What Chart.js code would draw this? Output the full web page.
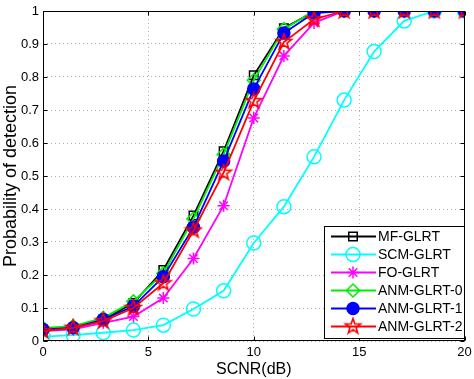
<!DOCTYPE html>
<html>
<head>
<meta charset="utf-8">
<script src="https://cdn.jsdelivr.net/npm/chart.js@4.4.1/dist/chart.umd.min.js"></script>
<style>
html,body{margin:0;padding:0;background:#fff;}
#wrap{width:474px;height:379px;position:relative;}
</style>
</head>
<body>
<div id="wrap"><canvas id="c" width="474" height="379"></canvas></div>
<script>
// ---- data ----
const scnr = [0, 1.43, 2.86, 4.29, 5.71, 7.14, 8.57, 10, 11.43, 12.86, 14.29, 15.71, 17.14, 18.57, 20];
const mfGlrt   = [0.035, 0.040, 0.065, 0.115, 0.215, 0.380, 0.575, 0.805, 0.948, 0.998, 1, 1, 1, 1, 1];
const scmGlrt  = [0.013, 0.018, 0.025, 0.033, 0.048, 0.097, 0.152, 0.297, 0.407, 0.558, 0.730, 0.877, 0.970, 1, 1];
const foGlrt   = [0.030, 0.035, 0.055, 0.074, 0.130, 0.250, 0.410, 0.676, 0.864, 0.964, 1, 1, 1, 1, 1];
const anmGlrt0 = [0.040, 0.045, 0.070, 0.120, 0.205, 0.370, 0.565, 0.790, 0.945, 1, 1, 1, 1, 1, 1];
const anmGlrt1 = [0.035, 0.040, 0.065, 0.105, 0.195, 0.345, 0.545, 0.764, 0.933, 0.994, 1, 1, 1, 1, 1];
const anmGlrt2 = [0.030, 0.040, 0.060, 0.100, 0.175, 0.335, 0.510, 0.727, 0.906, 0.975, 1, 1, 1, 1, 1];
const seriesNames = ['MF-GLRT', 'SCM-GLRT', 'FO-GLRT', 'ANM-GLRT-0', 'ANM-GLRT-1', 'ANM-GLRT-2'];
const xTicks = [0, 5, 10, 15, 20];
const yTicks = [0, 0.1, 0.2, 0.3, 0.4, 0.5, 0.6, 0.7, 0.8, 0.9, 1];

// pentagram marker canvas
function makeStar(color, r) {
  const s = Math.ceil(r * 2 + 4);
  const cv = document.createElement('canvas');
  cv.width = s; cv.height = s;
  const c = cv.getContext('2d');
  const cx = s / 2, cy = s / 2, ri = r * 0.4;
  c.beginPath();
  for (let k = 0; k < 10; k++) {
    const rad = k % 2 === 0 ? r : ri;
    const a = -Math.PI / 2 + k * Math.PI / 5;
    const px = cx + rad * Math.cos(a), py = cy + rad * Math.sin(a);
    if (k === 0) c.moveTo(px, py); else c.lineTo(px, py);
  }
  c.closePath();
  c.strokeStyle = color; c.lineWidth = 1.6; c.stroke();
  return cv;
}
const starImg = makeStar('#ff0000', 8);

const seriesData = [mfGlrt, scmGlrt, foGlrt, anmGlrt0, anmGlrt1, anmGlrt2];
const colors = ['#000000', '#00ffff', '#ff00ff', '#00ee00', '#0000ff', '#ff0000'];
const styles = ['rect', 'circle', 'star', 'rectRot', 'circle', starImg];
const radii = [6, 7, 6, 6.5, 6, 8];
const fills = ['rgba(0,0,0,0)', 'rgba(0,0,0,0)', 'rgba(0,0,0,0)', 'rgba(0,0,0,0)', '#0000ff', 'rgba(0,0,0,0)'];

const datasets = seriesNames.map((name, i) => ({
  label: name,
  data: scnr.map((x, j) => ({x: x, y: seriesData[i][j]})),
  borderColor: colors[i],
  backgroundColor: fills[i],
  pointBorderColor: colors[i],
  pointBackgroundColor: fills[i],
  pointStyle: styles[i],
  pointRadius: radii[i],
  pointHoverRadius: radii[i],
  pointBorderWidth: 1.5,
  borderWidth: 1.8,
  tension: 0,
  fill: false,
  order: seriesNames.length - i
}));

const framePlugin = {
  id: 'frame',
  afterDatasetsDraw(chart) {
    const ctx = chart.ctx, a = chart.chartArea;
    const xs = chart.scales.x, ys = chart.scales.y;
    ctx.save();
    ctx.strokeStyle = '#000';
    ctx.lineWidth = 1;
    ctx.setLineDash([]);
    const L = Math.round(a.left) + 0.5, R = Math.round(a.right) - 0.5;
    const T = Math.round(a.top) + 0.5, B = Math.round(a.bottom) - 0.5;
    ctx.strokeRect(L, T, R - L, B - T);
    ctx.beginPath();
    const tl = 4;
    xTicks.forEach(v => {
      const px = Math.round(xs.getPixelForValue(v)) + 0.5;
      ctx.moveTo(px, B); ctx.lineTo(px, B - tl);
      ctx.moveTo(px, T); ctx.lineTo(px, T + tl);
    });
    yTicks.forEach(v => {
      const py = Math.round(ys.getPixelForValue(v)) + 0.5;
      ctx.moveTo(L, py); ctx.lineTo(L + tl, py);
      ctx.moveTo(R, py); ctx.lineTo(R - tl, py);
    });
    ctx.stroke();

    // legend box
    const bx = 324, by = 226, bw = 140, bh = 112;
    ctx.fillStyle = '#fff';
    ctx.fillRect(bx, by, bw, bh);
    ctx.strokeRect(bx + 0.5, by + 0.5, bw, bh);
    ctx.font = '14px "Liberation Sans", Arial, sans-serif';
    ctx.textBaseline = 'middle';
    ctx.textAlign = 'left';
    chart.data.datasets.forEach((ds, i) => {
      const y = by + 10.5 + i * 18;
      ctx.strokeStyle = ds.borderColor;
      ctx.lineWidth = ds.borderWidth;
      ctx.beginPath();
      ctx.moveTo(331, y); ctx.lineTo(376, y);
      ctx.stroke();
      const cx = 353;
      if (Chart.helpers && Chart.helpers.drawPoint) {
        ctx.lineWidth = ds.pointBorderWidth;
        ctx.fillStyle = ds.pointBackgroundColor;
        ctx.strokeStyle = ds.pointBorderColor;
        Chart.helpers.drawPoint(ctx, {pointStyle: ds.pointStyle, radius: ds.pointRadius, rotation: 0, borderWidth: ds.pointBorderWidth}, cx, y);
      } else if (ds.pointStyle instanceof HTMLCanvasElement) {
        ctx.drawImage(ds.pointStyle, cx - ds.pointStyle.width / 2, y - ds.pointStyle.height / 2);
      }
      ctx.fillStyle = '#000';
      ctx.fillText(ds.label, 378, y + 1);
    });
    ctx.restore();
  }
};

const tickFont = {family: '"Liberation Sans", Arial, sans-serif', size: 13};
const titleFontX = {family: '"Liberation Sans", Arial, sans-serif', size: 16};
const titleFontY = {family: '"Liberation Sans", Arial, sans-serif', size: 18};

new Chart(document.getElementById('c'), {
  type: 'line',
  data: {datasets: datasets},
  plugins: [framePlugin],
  options: {
    responsive: false,
    animation: false,
    events: [],
    layout: {padding: {top: 11, right: 9, left: 0, bottom: 0}},
    plugins: {legend: {display: false}, tooltip: {enabled: false}},
    scales: {
      x: {
        type: 'linear', min: 0, max: 20,
        afterFit(s) { s.height = 38; s.paddingRight = 0; s.paddingLeft = 0; },
        afterBuildTicks(s) { s.ticks = xTicks.map(v => ({value: v})); },
        ticks: {font: tickFont, color: '#000', padding: 4, maxRotation: 0},
        grid: {color: '#b0b0b0', lineWidth: 1, drawTicks: false},
        border: {display: false, dash: [1, 3]},
        title: {display: true, text: 'SCNR(dB)', font: titleFontX, color: '#000', padding: {top: 0, bottom: 0}}
      },
      y: {
        type: 'linear', min: 0, max: 1,
        afterFit(s) { s.width = 43; s.paddingTop = 0; s.paddingBottom = 0; },
        afterBuildTicks(s) { s.ticks = yTicks.map(v => ({value: v})); },
        ticks: {font: tickFont, color: '#000', padding: 4, callback: v => String(Math.round(v * 10) / 10)},
        grid: {color: '#b0b0b0', lineWidth: 1, drawTicks: false},
        border: {display: false, dash: [1, 3]},
        title: {display: true, text: 'Probability of detection', font: titleFontY, color: '#000', padding: {top: 0, bottom: 0}}
      }
    }
  }
});
</script>
</body>
</html>
